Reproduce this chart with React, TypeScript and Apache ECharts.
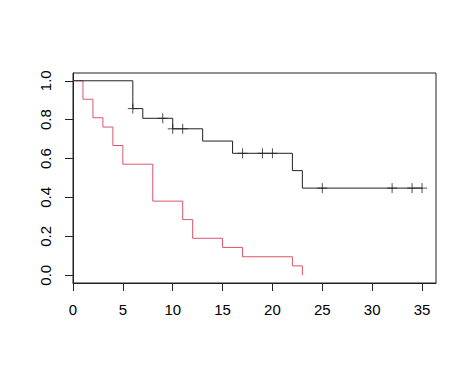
import React, { useEffect, useRef } from "react";
import * as echarts from "echarts";

// Kaplan-Meier steps (time, survival)
const treatedTimes = [0, 6, 7, 10, 13, 16, 22, 23, 35];
const treatedSurv = [1.0, 0.857, 0.807, 0.753, 0.69, 0.627, 0.538, 0.448, 0.448];
const controlTimes = [0, 1, 2, 3, 4, 5, 8, 11, 12, 15, 17, 22, 23];
const controlSurv = [1.0, 0.905, 0.81, 0.762, 0.667, 0.571, 0.381, 0.286, 0.19, 0.143, 0.095, 0.048, 0.0];
// censoring marks on the black curve
const censorTimes = [6, 9, 10, 11, 17, 19, 20, 25, 32, 34, 35];
const censorSurv = [0.857, 0.807, 0.753, 0.753, 0.627, 0.627, 0.627, 0.448, 0.448, 0.448, 0.448];

const xTicks = [0, 5, 10, 15, 20, 25, 30, 35];
const yTicks = [0, 0.2, 0.4, 0.6, 0.8, 1.0];

const FONT = "'Liberation Sans', Arial, Helvetica, sans-serif";

export default function App() {
  const ref = useRef<HTMLDivElement>(null);
  useEffect(() => {
    if (!ref.current) return;
    const chart = echarts.init(ref.current, undefined, { renderer: "svg" });
    chart.setOption({
      animation: false,
      backgroundColor: "#ffffff",
      grid: {
        left: 73,
        right: 38,
        top: 73,
        bottom: 92,
        show: true,
        borderColor: "#222",
        borderWidth: 1,
        backgroundColor: "transparent",
      },
      xAxis: {
        type: "value",
        min: 0,
        max: 36.4,
        axisLine: { show: true, onZero: false, lineStyle: { color: "#222", width: 1 } },
        axisTick: { show: true, length: 8, customValues: xTicks, lineStyle: { color: "#222" } },
        axisLabel: {
          customValues: xTicks,
          color: "#000",
          fontFamily: FONT,
          fontSize: 15,
          margin: 19,
        },
        splitLine: { show: false },
      },
      yAxis: {
        type: "value",
        min: -0.04,
        max: 1.04,
        axisLine: { show: true, onZero: false, lineStyle: { color: "#222", width: 1 } },
        axisTick: { show: true, length: 8, customValues: yTicks, lineStyle: { color: "#222" } },
        axisLabel: {
          customValues: yTicks,
          rotate: 90,
          color: "#000",
          fontFamily: FONT,
          fontSize: 15,
          margin: 20,
          formatter: (v: number) => v.toFixed(1),
        },
        splitLine: { show: false },
      },
      series: [
        {
          type: "line",
          step: "end",
          data: treatedTimes.map((t, i) => [t, treatedSurv[i]]),
          showSymbol: false,
          lineStyle: { color: "#222", width: 1 },
          z: 3,
        },
        {
          type: "line",
          step: "end",
          data: controlTimes.map((t, i) => [t, controlSurv[i]]),
          showSymbol: false,
          lineStyle: { color: "#DF536B", width: 1 },
          z: 2,
        },
        {
          type: "scatter",
          data: censorTimes.map((t, i) => [t, censorSurv[i]]),
          symbol: "path://M0,-1L0,1M-1,0L1,0",
          symbolSize: 10,
          itemStyle: { color: "none", borderColor: "#222", borderWidth: 1 },
          z: 4,
        },
      ],
    });
    return () => chart.dispose();
  }, []);
  return (
    <div
      ref={ref}
      style={{ position: "fixed", left: 0, top: 0, width: 474, height: 375, background: "#fff" }}
    />
  );
}
